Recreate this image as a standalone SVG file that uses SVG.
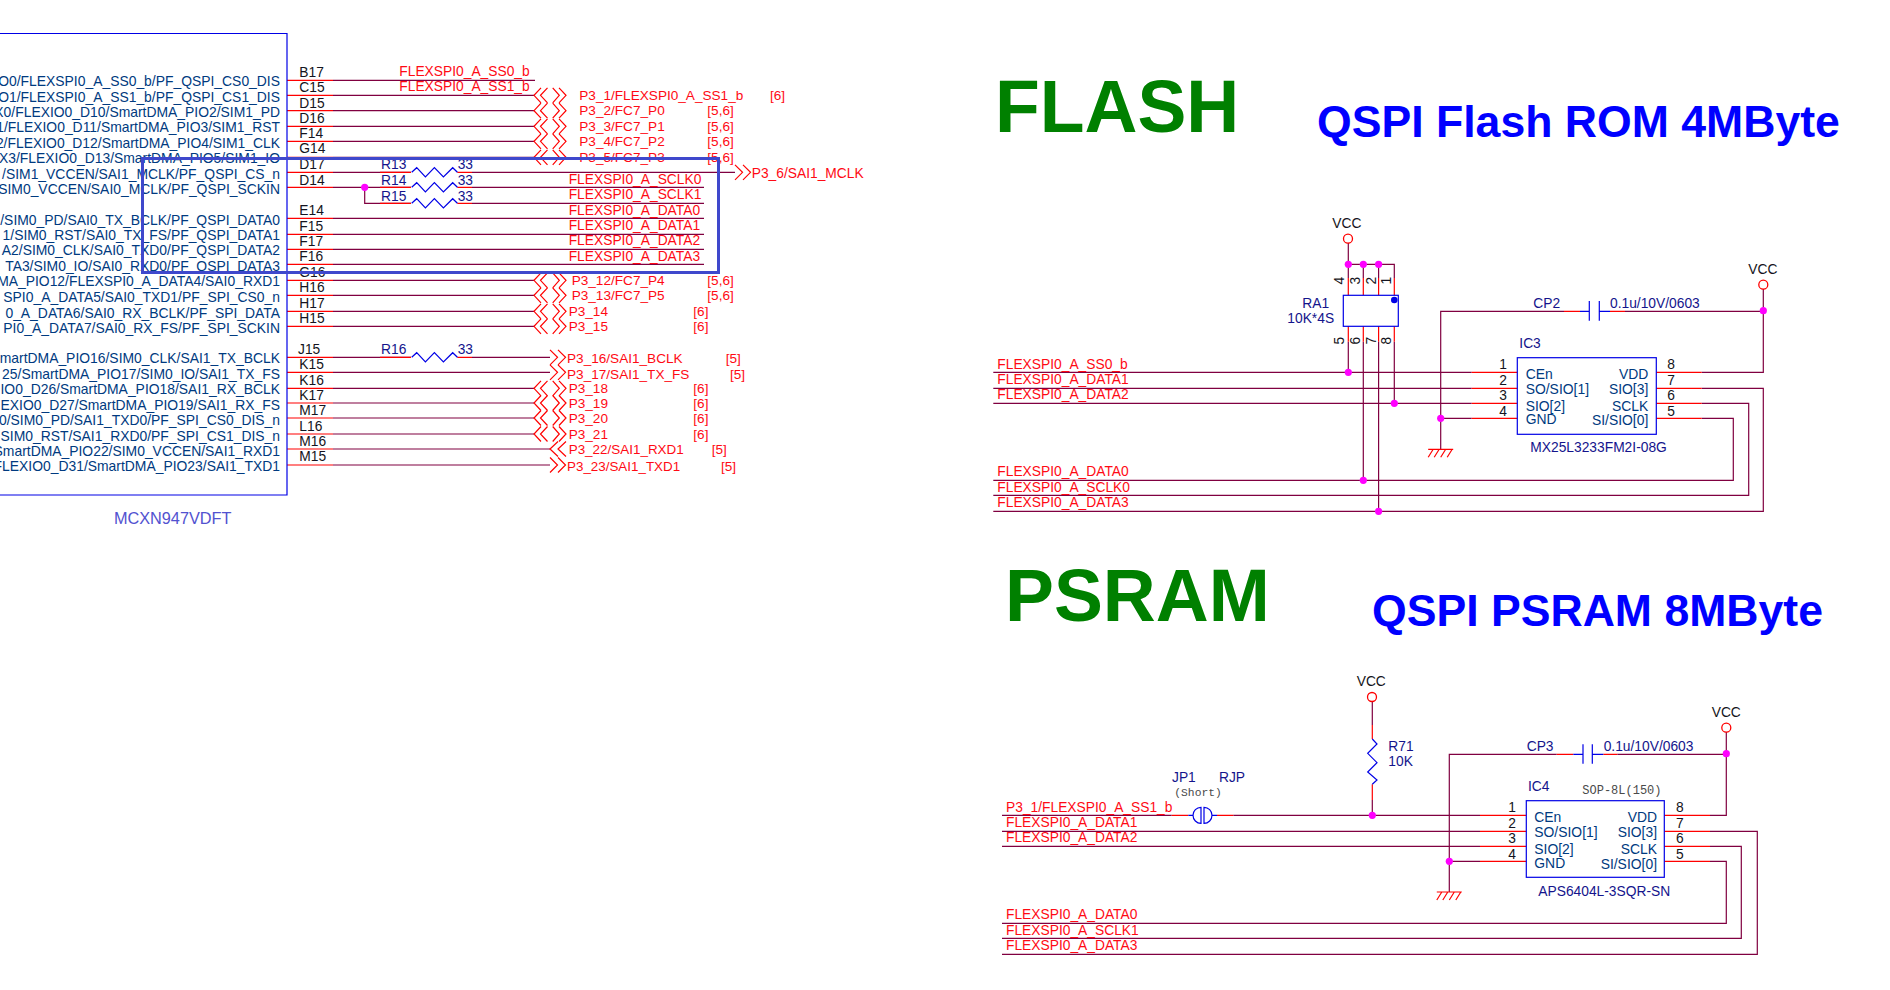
<svg xmlns="http://www.w3.org/2000/svg" width="1890" height="990" viewBox="0 0 1890 990">
<style>
text{font-family:"Liberation Sans",Arial,sans-serif;font-size:13.8px}
.t{fill:#003a80}.n{fill:#14148c}.r{fill:#ff0a14}.k{fill:#141420}
.t text{font-size:13.9px}
#offpage .r text{font-size:13.6px}
.e{text-anchor:end}
.m{font-family:"Liberation Mono","Courier New",monospace;fill:#4a4a4a}
.w,.p,.b,.c{fill:none;stroke-width:1.2}
.w{stroke:#800040}.p,.c{stroke:#ff0000}.b{stroke:#0000e6}
.d{fill:#ff00ff}
.v{fill:none;stroke:#ff0000;stroke-width:1.3}
.h1{font-weight:bold;font-size:73.3px;fill:#008000}
.h2{font-weight:bold;font-size:44.6px;fill:#0000ff}
</style>
<defs>
<path id="bi" class="c" d="M7 -7.5L0 0L7 7.5M13.5 -7.5L6.5 0L13.5 7.5M18.7 -7.5L25.3 0L18.7 7.5M25 -7.5L32 0L25 7.5"/>
<path id="out" class="c" d="M0 -7.5L7.5 0L0 7.5M8 -7.5L15.5 0L8 7.5"/>
<path id="in" class="c" d="M8 -7.5L0 0L8 7.5M16 -7.5L8 0L16 7.5"/>
<path id="rz" class="b" d="M0 0L5 -4.6L13.7 4.6L22.7 -4.6L31.7 4.6L41 -4.6L45.7 0"/>
<path id="gnd" class="c" d="M-12.5 0H12.5M-7.5 0L-12.5 8M-1.500 0L-6.500 8M5 0L0 8M11.500 0L6.500 8"/>
<circle id="dot" class="d" r="3.6"/>
</defs>

<g id="connectors">
<path class="w" d="M333 80.300H535M333 95.300H534M333 110.700H534M333 126.300H534M333 141.300H534M333 157.300H534
M333 172.300H411M472 172.300H735M333 187.300H411M472 187.300H704M364.700 187.300V203.300H411M472 203.300H704
M333 218.300H704M333 234.300H704M333 249.300H704M333 264.300H704
M333 280.300H534M333 295.300H534M333 311.300H534M333 326.300H534
M333 357.300H411M472 357.300H550M333 372.300H550M333 388.300H534M333 403H534M333 418H534M333 434H534M333 449H550M333 465H550"/>
<path class="p" d="M287 80.300H333M287 95.300H333M287 110.700H333M287 126.300H333M287 141.300H333M287 157.300H333M287 172.300H333M287 187.300H333M287 218.300H333M287 234.300H333M287 249.300H333M287 264.300H333M287 280.300H333M287 295.300H333M287 311.300H333M287 326.300H333M287 357.300H333M287 372.300H333M287 388.300H333M287 403H333M287 418H333M287 434H333M287 449H333M287 465H333
M380 172.300H411M457.300 172.300H472M380 187.300H411M457.300 187.300H472M380 203.300H411M457.300 203.300H472M380 357.300H411M457.300 357.300H472"/>
<path class="w" d="M993.300 372.300H1471.700M993.300 388.300H1471.700M993.300 403.300H1471.700M1440.700 418.300H1471.700
M993.300 480.300H1733.300V418.300H1701.700M993.300 495.300H1748.700V403.300H1701.700M993.300 511.300H1763.300V388.300H1701.700
M1701.700 372.300H1763.300V289M1440.700 449.300V311.300H1564M1625 311.300H1763.300
M1348.300 243V278M1348.300 264.300H1394.300V278M1363.300 264.300V278M1378.600 264.300V278
M1348.300 341.700V372.300M1363.300 341.700V480.300M1378.600 341.700V511.300M1394.300 341.700V403.300"/>
<path class="p" d="M1471.700 372.300H1517.300M1471.700 388.300H1517.300M1471.700 403.300H1517.300M1471.700 418.300H1517.300M1656.300 372.300H1701.700M1656.300 388.300H1701.700M1656.300 403.300H1701.700M1656.300 418.300H1701.700
M1348.300 278V295.300M1363.300 278V295.300M1378.600 278V295.300M1394.300 278V295.300M1348.300 326.300V341.700M1363.300 326.300V341.700M1378.600 326.300V341.700M1394.300 326.300V341.700
M1564 311.300H1580M1610 311.300H1625"/>
<path class="w" d="M1002 815.300H1171.700M1233.300 815.300H1480M1002 831.300H1480M1002 846.300H1480M1449.300 861.300H1480
M1002 923.300H1726.300V861.300H1710M1002 938.300H1741.300V846.300H1710M1002 954.300H1757.300V831.300H1710
M1710 815.300H1726.300V732M1449.300 892V754.300H1556.700M1617.300 754.300H1726.300
M1372.300 701.500V725M1372.300 800V815.300"/>
<path class="p" d="M1480 815.300H1526.300M1480 831.300H1526.300M1480 846.300H1526.300M1480 861.300H1526.300M1664.300 815.300H1710M1664.300 831.300H1710M1664.300 846.300H1710M1664.300 861.300H1710
M1372.300 725V739M1372.300 784.300V800M1171.700 815.300H1188.300M1217 815.300H1233.300M1556.700 754.300H1573.300M1603.300 754.300H1617.300"/>
<use href="#dot" x="364.700" y="187.300"/>
<use href="#dot" x="1348.300" y="264.300"/><use href="#dot" x="1363.300" y="264.300"/><use href="#dot" x="1378.600" y="264.300"/>
<use href="#dot" x="1348.300" y="372.300"/><use href="#dot" x="1394.300" y="403.300"/><use href="#dot" x="1363.300" y="480.300"/><use href="#dot" x="1378.600" y="511.300"/>
<use href="#dot" x="1440.700" y="418.300"/><use href="#dot" x="1763.300" y="310.700"/>
<use href="#dot" x="1372.300" y="815.300"/><use href="#dot" x="1449.300" y="861.300"/><use href="#dot" x="1726.300" y="753.700"/>
</g>

<g id="U-MCXN947VDFT">
<path class="b" d="M0 33.500H287V495H0"/>
<g class="t">
<text class="e" x="280" y="86">O0/FLEXSPI0_A_SS0_b/PF_QSPI_CS0_DIS</text>
<text class="e" x="280" y="101.700">O1/FLEXSPI0_A_SS1_b/PF_QSPI_CS1_DIS</text>
<text class="e" x="280" y="117">X0/FLEXIO0_D10/SmartDMA_PIO2/SIM1_PD</text>
<text class="e" x="280" y="132.300">1/FLEXIO0_D11/SmartDMA_PIO3/SIM1_RST</text>
<text class="e" x="280" y="148">2/FLEXIO0_D12/SmartDMA_PIO4/SIM1_CLK</text>
<text class="e" x="280" y="163.300">X3/FLEXIO0_D13/SmartDMA_PIO5/SIM1_IO</text>
<text class="e" x="280" y="178.700">/SIM1_VCCEN/SAI1_MCLK/PF_QSPI_CS_n</text>
<text class="e" x="280" y="194">SIM0_VCCEN/SAI0_MCLK/PF_QSPI_SCKIN</text>
<text class="e" x="280" y="224.700">/SIM0_PD/SAI0_TX_BCLK/PF_QSPI_DATA0</text>
<text class="e" x="280" y="240">1/SIM0_RST/SAI0_TX_FS/PF_QSPI_DATA1</text>
<text class="e" x="280" y="255.300">A2/SIM0_CLK/SAI0_TXD0/PF_QSPI_DATA2</text>
<text class="e" x="280" y="270.700">TA3/SIM0_IO/SAI0_RXD0/PF_QSPI_DATA3</text>
<text class="e" x="280" y="286">MA_PIO12/FLEXSPI0_A_DATA4/SAI0_RXD1</text>
<text class="e" x="280" y="302.300">SPI0_A_DATA5/SAI0_TXD1/PF_SPI_CS0_n</text>
<text class="e" x="280" y="318">0_A_DATA6/SAI0_RX_BCLK/PF_SPI_DATA</text>
<text class="e" x="280" y="333">PI0_A_DATA7/SAI0_RX_FS/PF_SPI_SCKIN</text>
<text class="e" x="280" y="363">martDMA_PIO16/SIM0_CLK/SAI1_TX_BCLK</text>
<text class="e" x="280" y="378.700">25/SmartDMA_PIO17/SIM0_IO/SAI1_TX_FS</text>
<text class="e" x="280" y="394">IO0_D26/SmartDMA_PIO18/SAI1_RX_BCLK</text>
<text class="e" x="280" y="410">EXIO0_D27/SmartDMA_PIO19/SAI1_RX_FS</text>
<text class="e" x="280" y="425.300">0/SIM0_PD/SAI1_TXD0/PF_SPI_CS0_DIS_n</text>
<text class="e" x="280" y="440.700">SIM0_RST/SAI1_RXD0/PF_SPI_CS1_DIS_n</text>
<text class="e" x="280" y="456">SmartDMA_PIO22/SIM0_VCCEN/SAI1_RXD1</text>
<text class="e" x="280" y="471.300">FLEXIO0_D31/SmartDMA_PIO23/SAI1_TXD1</text>
</g>
<g class="k">
<text x="299.300" y="76.700">B17</text><text x="299.300" y="91.700">C15</text><text x="299.300" y="107.700">D15</text><text x="299.300" y="122.700">D16</text><text x="299.300" y="138">F14</text><text x="299.300" y="153.300">G14</text><text x="299.300" y="168.700">D17</text><text x="299.300" y="185">D14</text><text x="299.300" y="214.700">E14</text><text x="299.300" y="230.700">F15</text><text x="299.300" y="246">F17</text><text x="299.300" y="261.300">F16</text><text x="299.300" y="276.700">G16</text><text x="299.300" y="292">H16</text><text x="299.300" y="307.700">H17</text><text x="299.300" y="323">H15</text><text x="298" y="354">J15</text><text x="299.300" y="368.700">K15</text><text x="299.300" y="384.700">K16</text><text x="299.300" y="400">K17</text><text x="299.300" y="415.300">M17</text><text x="299.300" y="430.700">L16</text><text x="299.300" y="446">M16</text><text x="299.300" y="461.300">M15</text>
</g>
<text x="172.700" y="524" text-anchor="middle" style="font-size:16.3px;fill:#5252d0">MCXN947VDFT</text>
</g>

<g id="R13"><use href="#rz" x="411.700" y="172.300"/><text class="n" x="381" y="169">R13</text><text class="n" x="457.700" y="169">33</text></g>
<g id="R14"><use href="#rz" x="411.700" y="187.300"/><text class="n" x="381" y="185.300">R14</text><text class="n" x="457.700" y="185.300">33</text></g>
<g id="R15"><use href="#rz" x="411.700" y="203.300"/><text class="n" x="381" y="200.500">R15</text><text class="n" x="457.700" y="200.500">33</text></g>
<g id="R16"><use href="#rz" x="411.700" y="357.300"/><text class="n" x="381" y="354">R16</text><text class="n" x="457.700" y="354">33</text></g>

<g id="nets-mcu" class="r">
<text x="399.300" y="76">FLEXSPI0_A_SS0_b</text><text x="399.300" y="91">FLEXSPI0_A_SS1_b</text>
<text x="568.700" y="184">FLEXSPI0_A_SCLK0</text><text x="568.700" y="199.300">FLEXSPI0_A_SCLK1</text><text x="568.700" y="215">FLEXSPI0_A_DATA0</text><text x="568.700" y="230">FLEXSPI0_A_DATA1</text><text x="568.700" y="245.300">FLEXSPI0_A_DATA2</text><text x="568.700" y="260.700">FLEXSPI0_A_DATA3</text>
</g>

<g id="offpage">
<use href="#bi" x="534" y="95.300"/><use href="#bi" x="534" y="110.700"/><use href="#bi" x="534" y="126.300"/><use href="#bi" x="534" y="141.300"/><use href="#bi" x="534" y="157.300"/>
<use href="#out" x="735" y="172.300"/>
<use href="#bi" x="534" y="280.300"/><use href="#bi" x="534" y="295.300"/><use href="#bi" x="534" y="311.300"/><use href="#bi" x="534" y="326.300"/>
<use href="#out" x="550" y="357.300"/><use href="#out" x="550" y="372.300"/>
<use href="#bi" x="534" y="388.300"/><use href="#bi" x="534" y="403"/><use href="#bi" x="534" y="418"/><use href="#bi" x="534" y="434"/>
<use href="#in" x="550" y="449"/><use href="#out" x="550" y="465"/>
<g class="r">
<text x="579.300" y="99.700">P3_1/FLEXSPI0_A_SS1_b</text><text x="770" y="99.700">[6]</text>
<text x="579.300" y="115.300">P3_2/FC7_P0</text><text x="707.300" y="115.300">[5,6]</text>
<text x="579.300" y="130.800">P3_3/FC7_P1</text><text x="707.300" y="130.800">[5,6]</text>
<text x="579.300" y="145.900">P3_4/FC7_P2</text><text x="707.300" y="145.900">[5,6]</text>
<text x="579.300" y="161.500">P3_5/FC7_P3</text><text x="707.300" y="161.500">[5,6]</text>
<text x="751.700" y="177.700" style="font-size:13.8px">P3_6/SAI1_MCLK</text>
<text x="571.700" y="285">P3_12/FC7_P4</text><text x="707.300" y="285">[5,6]</text>
<text x="571.700" y="300">P3_13/FC7_P5</text><text x="707.300" y="300">[5,6]</text>
<text x="568.700" y="315.700">P3_14</text><text x="693.300" y="315.700">[6]</text>
<text x="568.700" y="331">P3_15</text><text x="693.300" y="331">[6]</text>
<text x="567" y="362.700">P3_16/SAI1_BCLK</text><text x="725.700" y="362.700">[5]</text>
<text x="567" y="378.700">P3_17/SAI1_TX_FS</text><text x="730" y="378.700">[5]</text>
<text x="568.700" y="393">P3_18</text><text x="693.300" y="393">[6]</text>
<text x="568.700" y="407.700">P3_19</text><text x="693.300" y="407.700">[6]</text>
<text x="568.700" y="422.700">P3_20</text><text x="693.300" y="422.700">[6]</text>
<text x="568.700" y="439">P3_21</text><text x="693.300" y="439">[6]</text>
<text x="568.700" y="454" style="font-size:13.45px">P3_22/SAI1_RXD1</text><text x="711.700" y="454">[5]</text>
<text x="567" y="471" style="font-size:13.4px">P3_23/SAI1_TXD1</text><text x="721" y="471">[5]</text>
</g>
</g>

<g id="titles">
<text class="h1" x="995" y="131.500">FLASH</text>
<text class="h2" x="1317" y="137.300">QSPI Flash ROM 4MByte</text>
<text class="h1" x="1005" y="621">PSRAM</text>
<text class="h2" x="1372" y="626">QSPI PSRAM 8MByte</text>
</g>

<g id="RA1">
<rect class="b" x="1343.300" y="295.300" width="55" height="31"/>
<circle cx="1394.300" cy="300" r="3.300" fill="#0000e6"/>
<text class="n" x="1302.300" y="307.700">RA1</text><text class="n" x="1287.300" y="322.700">10K*4S</text>
<g class="k" text-anchor="middle">
<text transform="translate(1344.300 280.700) rotate(-90)">4</text><text transform="translate(1360 280.700) rotate(-90)">3</text><text transform="translate(1375.700 280.700) rotate(-90)">2</text><text transform="translate(1391.300 280.700) rotate(-90)">1</text>
<text transform="translate(1344.300 340.700) rotate(-90)">5</text><text transform="translate(1360 340.700) rotate(-90)">6</text><text transform="translate(1375.700 340.700) rotate(-90)">7</text><text transform="translate(1391.300 340.700) rotate(-90)">8</text>
</g>
</g>

<g id="VCC-1"><circle class="v" cx="1348" cy="238.700" r="4.500"/><text class="k" x="1332.300" y="227.700">VCC</text></g>
<g id="VCC-2"><circle class="v" cx="1763.300" cy="284.700" r="4.500"/><text class="k" x="1748.300" y="273.800">VCC</text></g>
<g id="VCC-3"><circle class="v" cx="1372" cy="697" r="4.500"/><text class="k" x="1356.700" y="685.700">VCC</text></g>
<g id="VCC-4"><circle class="v" cx="1726.300" cy="727.700" r="4.500"/><text class="k" x="1711.700" y="716.700">VCC</text></g>
<g id="GND-1"><use href="#gnd" x="1440.700" y="449.300"/></g>
<g id="GND-2"><use href="#gnd" x="1449.300" y="892"/></g>

<g id="CP2">
<path class="b" d="M1580 311.300H1589.300M1589.300 301V320.700M1599.300 301V320.700M1599.300 311.300H1610"/>
<text class="n" x="1533.300" y="308">CP2</text><text class="n" x="1610" y="308">0.1u/10V/0603</text>
</g>

<g id="IC3">
<rect class="b" x="1517.300" y="357.700" width="139" height="76.600"/>
<text class="n" x="1519.300" y="347.700">IC3</text>
<text class="n" x="1530.300" y="452.300">MX25L3233FM2I-08G</text>
<g class="t">
<text x="1525.700" y="379">CEn</text><text x="1525.700" y="394">SO/SIO[1]</text><text x="1525.700" y="410.700">SIO[2]</text><text x="1525.700" y="424.300">GND</text>
<text class="e" x="1648.300" y="379">VDD</text><text class="e" x="1648.300" y="394">SIO[3]</text><text class="e" x="1648.300" y="410.700">SCLK</text><text class="e" x="1648.300" y="425">SI/SIO[0]</text>
</g>
<g class="k">
<text x="1499.300" y="369">1</text><text x="1499.300" y="384.700">2</text><text x="1499.300" y="400">3</text><text x="1499.300" y="415.700">4</text>
<text x="1667.300" y="369">8</text><text x="1667.300" y="384.700">7</text><text x="1667.300" y="400">6</text><text x="1667.300" y="415.700">5</text>
</g>
</g>

<g id="nets-flash" class="r">
<text x="997.300" y="369.300">FLEXSPI0_A_SS0_b</text><text x="997.300" y="384.300">FLEXSPI0_A_DATA1</text><text x="997.300" y="399">FLEXSPI0_A_DATA2</text>
<text x="997.300" y="476">FLEXSPI0_A_DATA0</text><text x="997.300" y="492">FLEXSPI0_A_SCLK0</text><text x="997.300" y="507">FLEXSPI0_A_DATA3</text>
</g>

<g id="R71">
<path class="b" d="M1372.300 739L1377 744L1367.700 753.300L1377 762.700L1367.700 772L1377 780L1372.300 784.300"/>
<text class="n" x="1388.300" y="751">R71</text><text class="n" x="1388.300" y="766">10K</text>
</g>

<g id="JP1">
<path class="b" d="M1188.300 815.300H1193M1201 807.300A8 8 0 0 0 1201 823.300ZM1204 807.300A8 8 0 0 1 1204 823.300ZM1212 815.300H1217"/>
<text class="n" x="1172" y="781.700">JP1</text><text class="n" x="1219" y="781.700">RJP</text>
<text class="m" x="1174.300" y="796" style="font-size:11.300px">(Short)</text>
</g>

<g id="CP3">
<path class="b" d="M1573.300 754.300H1583M1583 744.300V763.700M1592.300 744.300V763.700M1592.300 754.300H1603.300"/>
<text class="n" x="1526.700" y="750.700">CP3</text><text class="n" x="1603.700" y="750.700">0.1u/10V/0603</text>
</g>

<g id="IC4">
<rect class="b" x="1526.300" y="800.700" width="138" height="76.600"/>
<text class="n" x="1528" y="791">IC4</text>
<text class="m" x="1582.300" y="794" style="font-size:12px">SOP-8L(150)</text>
<text class="n" x="1538.300" y="895.700">APS6404L-3SQR-SN</text>
<g class="t">
<text x="1534.300" y="822">CEn</text><text x="1534.300" y="837">SO/SIO[1]</text><text x="1534.300" y="853.700">SIO[2]</text><text x="1534.300" y="867.700">GND</text>
<text class="e" x="1657" y="822">VDD</text><text class="e" x="1657" y="837">SIO[3]</text><text class="e" x="1657" y="853.700">SCLK</text><text class="e" x="1657" y="869">SI/SIO[0]</text>
</g>
<g class="k">
<text x="1508.300" y="812">1</text><text x="1508.300" y="828">2</text><text x="1508.300" y="842.700">3</text><text x="1508.300" y="858.700">4</text>
<text x="1676" y="812">8</text><text x="1676" y="828">7</text><text x="1676" y="842.700">6</text><text x="1676" y="858.700">5</text>
</g>
</g>

<g id="nets-psram" class="r">
<text x="1006" y="812.300">P3_1/FLEXSPI0_A_SS1_b</text><text x="1006" y="827.300">FLEXSPI0_A_DATA1</text><text x="1006" y="842.300">FLEXSPI0_A_DATA2</text>
<text x="1006" y="919">FLEXSPI0_A_DATA0</text><text x="1006" y="935.300">FLEXSPI0_A_SCLK1</text><text x="1006" y="950.300">FLEXSPI0_A_DATA3</text>
</g>

<rect id="highlight" x="142.500" y="158.500" width="576" height="114" fill="none" stroke="#3f48cc" stroke-width="3"/>
</svg>
